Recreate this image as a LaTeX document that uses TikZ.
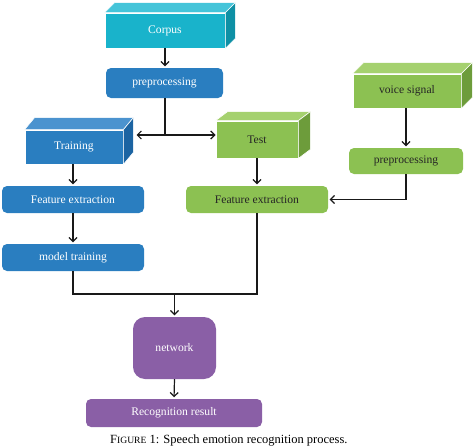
\documentclass[tikz,border=0pt]{standalone}
\usepackage{fontspec}
\setmainfont{Liberation Serif}
\usetikzlibrary{arrows.meta,calc}
\definecolor{cyanF}{HTML}{19B3CB}
\definecolor{cyanT}{HTML}{45C4D9}
\definecolor{cyanS}{HTML}{0E90A5}
\definecolor{blueF}{HTML}{2A7EC0}
\definecolor{blueT}{HTML}{4B93CF}
\definecolor{blueS}{HTML}{1C64A2}
\definecolor{greenF}{HTML}{8CC152}
\definecolor{greenT}{HTML}{A5D16F}
\definecolor{greenS}{HTML}{6D9C3B}
\definecolor{purpleF}{HTML}{8A5FA6}
\tikzset{
  front/.style={rectangle, draw=white, line width=0.8pt, inner sep=0pt, font=\fontsize{11.6}{13}\selectfont},
  rbox/.style={rectangle, rounded corners=5pt, draw=none, inner sep=0pt, font=\fontsize{11.6}{13}\selectfont},
  wtext/.style={text=white},
  dtext/.style={text=black!85},
  conn/.style={draw=black!90, line width=1.2pt},
  arr/.style={conn, -{Straight Barb[length=4pt,width=8pt,line width=1.2pt]}, shorten >=1.5pt},
}
\newcommand{\cubefaces}[5]{% node, dx, dy, topcolor, sidecolor
  \fill[#4, draw=white, line width=0.6pt] (#1.north west) -- (#1.north east) -- ++(#2,-#3) -- ($(#1.north west)+(#2,-#3)$) -- cycle;
  \fill[#5, draw=white, line width=0.6pt] (#1.north east) -- (#1.south east) -- ++(#2,-#3) -- ($(#1.north east)+(#2,-#3)$) -- cycle;
}
\begin{document}
\begin{tikzpicture}[x=1pt,y=-1pt]
\useasboundingbox (0,0) rectangle (474,447);
% cubes
\node[front, fill=cyanF, wtext, minimum width=120pt, minimum height=35pt] (corpus) at (165,30.5) {Corpus};
\cubefaces{corpus}{10}{10}{cyanT}{cyanS}
\node[front, fill=blueF, wtext, minimum width=98pt, minimum height=34pt] (training) at (74,147) {Training};
\cubefaces{training}{10}{12}{blueT}{blueS}
\node[front, fill=greenF, dtext, minimum width=82pt, minimum height=37pt] (test) at (257,139.5) {Test};
\cubefaces{test}{12}{9}{greenT}{greenS}
\node[front, fill=greenF, dtext, minimum width=108pt, minimum height=34pt] (voice) at (407,91) {voice signal};
\cubefaces{voice}{11}{11}{greenT}{greenS}
% rounded boxes
\node[rbox, fill=blueF, wtext, minimum width=117pt, minimum height=30pt] (pre1) at (164.5,83) {preprocessing};
\node[rbox, fill=blueF, wtext, minimum width=142pt, minimum height=27pt] (fe1) at (73,199.5) {Feature extraction};
\node[rbox, fill=blueF, wtext, minimum width=142pt, minimum height=27pt] (model) at (73,257.5) {model training};
\node[rbox, fill=greenF, dtext, minimum width=114pt, minimum height=26pt] (pre2) at (406,161) {preprocessing};
\node[rbox, fill=greenF, dtext, minimum width=142pt, minimum height=27pt] (fe2) at (257,199.5) {Feature extraction};
\node[rbox, rounded corners=12pt, fill=purpleF, wtext, minimum width=83pt, minimum height=62pt] (net) at (174.5,348) {network};
\node[rbox, fill=purpleF, wtext, minimum width=176pt, minimum height=28pt] (res) at (174,413) {Recognition result};
% coordinates
\coordinate (split) at (165,135);
\coordinate (trR) at (135,135);
\coordinate (teL) at (217,135);
\coordinate (pdown) at (406,199.5);
\coordinate (mL) at (73,294);
\coordinate (mR) at (257,294);
\coordinate (mC) at (174.5,294);
% connectors
\draw[arr] (corpus.south -| split) -- (pre1.north -| split);
\draw[conn] (pre1.south -| split) -- (split);
\draw[arr] (split) -- (trR);
\draw[arr] (split) -- (teL);
\draw[arr] (training.south -| fe1.north) -- (fe1.north);
\draw[arr] (fe1.south) -- (model.north);
\draw[arr] (test.south) -- (fe2.north);
\draw[arr] (voice.south -| pre2.north) -- (pre2.north);
\draw[arr] (pre2.south) -- (pdown) -- (fe2.east);
\draw[conn] (model.south) -- (mL) -- (mR) -- (fe2.south);
\draw[arr] (mC) -- (net.north);
\draw[arr] (net.south) -- (res.north);
% caption
\node[anchor=base west, inner sep=0pt, font=\fontsize{12.5}{14}\selectfont] (cap) at (110,443.5) {F{\fontsize{9.6}{11}\selectfont IGURE} 1: Speech emotion recognition process.};
\end{tikzpicture}
\end{document}
